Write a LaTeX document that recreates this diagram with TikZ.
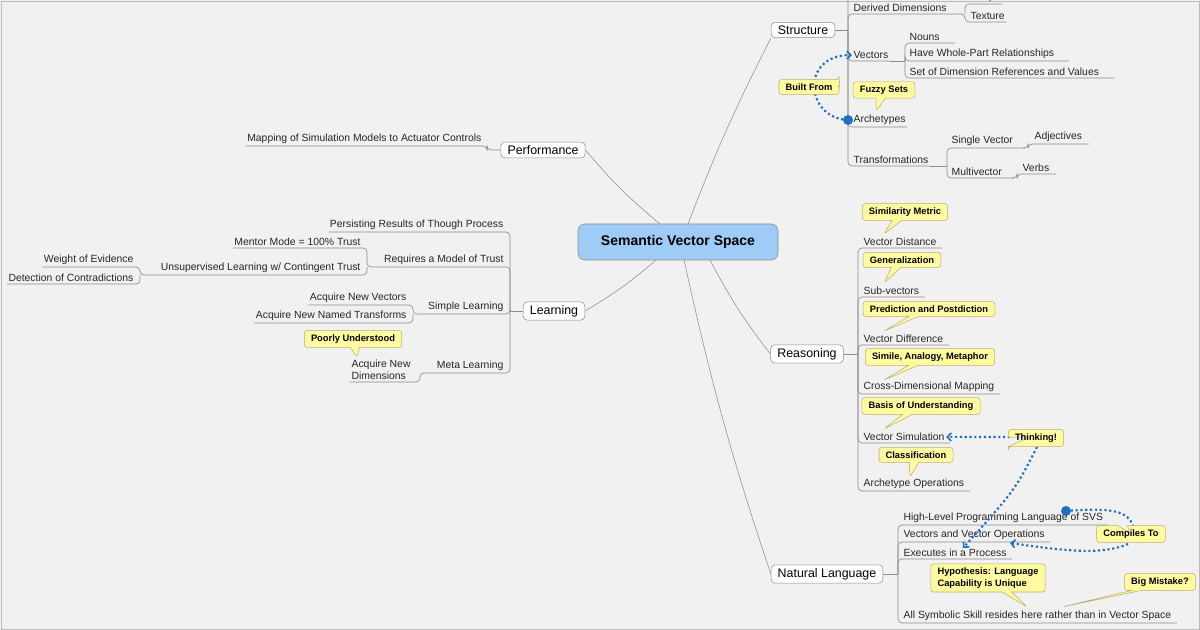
\documentclass[tikz,border=0pt]{standalone}
\usepackage{fontspec}
\setmainfont{Liberation Sans}
\usetikzlibrary{shapes.callouts,arrows.meta}
\definecolor{bg}{HTML}{F1F1F1}
\definecolor{ln}{HTML}{8C8C8C}
\definecolor{cy}{HTML}{FFFAA0}
\definecolor{cyb}{HTML}{B8B070}
\definecolor{lb}{HTML}{9FCBF7}
\definecolor{dl}{HTML}{1F6FC0}
\tikzset{
 item/.style={inner xsep=1pt,inner ysep=1.5pt,font=\fontsize{7.8}{9}\selectfont,text=black!85},
 topic/.style={draw=ln,fill=white,rounded corners=3pt,inner xsep=5pt,inner ysep=2.5pt,font=\fontsize{9.3}{11}\selectfont},
 br/.style={draw=ln,line width=0.5pt,rounded corners=3pt},
 callbox/.style={rectangle callout,draw=cyb,fill=cy,rounded corners=2pt,font=\fontsize{7}{8.5}\selectfont\bfseries,inner xsep=5pt,inner ysep=3pt,align=left},
 dots/.style={draw=dl,dotted,line width=1.6pt},
 dotarrow/.style={dots,-{Straight Barb[length=3pt,width=6pt,line width=1.2pt]}},
}
\begin{document}
\begin{tikzpicture}[x=0.75pt,y=-0.75pt]
\fill[bg] (0,0) rectangle (1200,630);
\draw[ln!60] (1,1) rectangle (1199,629);
\useasboundingbox (0,0) rectangle (1200,630);
% central
\node[draw=ln,fill=lb,rounded corners=5pt,minimum width=150pt,minimum height=27pt,font=\fontsize{10.5}{12}\selectfont\bfseries] (c) at (678,242) {Semantic Vector Space};
\node[topic] (st) at (803,30) {Structure};
\node[topic] (pf) at (543,150) {Performance};
\node[topic] (le) at (554,311) {Learning};
\node[topic] (re) at (807,354) {Reasoning};
\node[topic] (nl) at (827,574) {Natural Language};
\draw[ln] (688,224) to[bend left=3] (st.south west);
\draw[ln] (660,224) to[bend left=5] (pf.east);
\draw[ln] (656,260) to[bend left=5] (le.east);
\draw[ln] (710,260) to[bend right=5] (re.west);
\draw[ln] (684,260) to[bend right=3] (nl.west);
% Structure
\coordinate (sb) at (848,30);
\draw[br] (st.east) -- (sb);
\node[item,anchor=south west] (dd) at (852,14) {Derived Dimensions};
\node[item,anchor=south west] (ve) at (852,61) {Vectors};
\node[item,anchor=south west] (ar) at (852,127) {Archetypes};
\node[item,anchor=south west] (tr) at (852,166) {Transformations};
\foreach \n in {ar,tr}{\draw[br] (sb) |- (\n.south east);}
\draw[br] (848,0) -- (sb) |- (ve.south east);
\draw[br] (sb) |- (dd.south east);
% derived dims
\node[item,anchor=south west] (sh) at (969,4) {Shape};
\node[item,anchor=south west] (tx) at (969,22) {Texture};
\draw[br] (dd.south east) -- (965,14) |- (tx.south east);
\draw[br] (965,14) |- (sh.south east);
% vectors
\node[item,anchor=south west] (no) at (908,43) {Nouns};
\node[item,anchor=south west] (wp) at (908,61) {Have Whole-Part Relationships};
\node[item,anchor=south west] (sd) at (908,78) {Set of Dimension References and Values};
\draw[ln] (ve.south east) -- (905,61);
\foreach \n in {no,wp,sd}{\draw[br] (905,61) |- ([xshift=10]\n.south east);}
% transformations
\node[item,anchor=south west] (sv) at (950,148) {Single Vector};
\node[item,anchor=south west] (mv) at (950,178) {Multivector};
\draw[br] (tr.south east) -- (947,166);
\draw[br] (947,166) |- ([xshift=8]sv.south east);
\draw[br] (947,166) |- ([xshift=8]mv.south east);
\node[item,anchor=south west] (adj) at (1033,144) {Adjectives};
\node[item,anchor=south west] (vb) at (1021,174) {Verbs};
\draw[br] ([xshift=8]sv.south east) -- ++(3,0) |- ([xshift=4]adj.south east);
\draw[br] ([xshift=8]mv.south east) -- ++(3,0) |- ([xshift=4]vb.south east);
% built from
\draw[dotarrow] (848,120) .. controls (805,118) and (800,55) .. (ve.west);
\fill[dl] (848,120) circle (5);
\node[callbox,callout absolute pointer={(840,88)}] (bf) at (809,87) {Built From};
\node[callbox,callout absolute pointer={(876,111)}] (fz) at (884,90) {Fuzzy Sets};
% Performance
\node[item,anchor=south east] (ms) at (483,146) {Mapping of Simulation Models to Actuator Controls};
\draw[br] (pf.west) -- (487,150) |- (ms.south west);
% Learning
\coordinate (lb) at (510,311);
\draw[br] (le.west) -- (lb);
\node[item,anchor=south east] (pr) at (505,232) {Persisting Results of Though Process};
\node[item,anchor=south east] (rm) at (505,267) {Requires a Model of Trust};
\node[item,anchor=south east] (sl) at (505,314) {Simple Learning};
\node[item,anchor=south east] (ml) at (505,373) {Meta Learning};
\foreach \n in {pr,rm,sl,ml}{\draw[br] (lb) |- (\n.south west);}
\node[item,anchor=south east] (mm) at (362,248) {Mentor Mode = 100\% Trust};
\node[item,anchor=south east] (ul) at (362,275) {Unsupervised Learning w/ Contingent Trust};
\draw[br] (rm.south west) -- (367,267) |- (mm.south west);
\draw[br] (367,267) |- (ul.south west);
\node[item,anchor=south east] (we) at (135,267) {Weight of Evidence};
\node[item,anchor=south east] (dc) at (135,284) {Detection of Contradictions};
\draw[br] (ul.south west) -- (140,275) |- (we.south west);
\draw[br] (140,275) |- (dc.south west);
\node[item,anchor=south east] (av) at (408,305) {Acquire New Vectors};
\node[item,anchor=south east] (at) at (408,323) {Acquire New Named Transforms};
\draw[br] (sl.south west) -- (413,314) |- (av.south west);
\draw[br] (413,314) |- (at.south west);
\node[item,anchor=south west,align=left] (an) at (350,382) {Acquire New\\Dimensions};
\draw[br] (ml.south west) -- (420,373) |- (an.south west);
\node[callbox,callout absolute pointer={(357,357)}] (pu) at (353,339) {Poorly Understood};
% Reasoning
\coordinate (rb) at (858,354);
\draw[br] (re.east) -- (rb);
\node[item,anchor=south west] (r1) at (862,248) {Vector Distance};
\node[item,anchor=south west] (r2) at (862,297) {Sub-vectors};
\node[item,anchor=south west] (r3) at (862,345) {Vector Difference};
\node[item,anchor=south west] (r4) at (862,394) {Cross-Dimensional Mapping};
\node[item,anchor=south west] (r5) at (862,443) {Vector Simulation};
\node[item,anchor=south west] (r6) at (862,491) {Archetype Operations};
\foreach \n in {r1,r2,r3,r4,r5,r6}{\draw[br] (rb) |- ([xshift=3]\n.south east);}
\node[callbox,callout absolute pointer={(884,234)}] at (905,212) {Similarity Metric};
\node[callbox,callout absolute pointer={(884,283)}] at (902,260) {Generalization};
\node[callbox,callout absolute pointer={(884,331)}] at (929,309) {Prediction and Postdiction};
\node[callbox,callout absolute pointer={(884,380)}] at (930,357) {Simile, Analogy, Metaphor};
\node[callbox,callout absolute pointer={(884,429)}] at (921,406) {Basis of Understanding};
\node[callbox,callout absolute pointer={(910,477)}] at (916,455) {Classification};
% Natural language
\coordinate (nb) at (898,574);
\draw[br] (nl.east) -- (nb);
\node[item,anchor=south west] (n1) at (902,525) {High-Level Programming Language of SVS};
\node[item,anchor=south west] (n2) at (902,542) {Vectors and Vector Operations};
\node[item,anchor=south west] (n3) at (902,559) {Executes in a Process};
\node[item,anchor=south west] (n4) at (902,623) {All Symbolic Skill resides here rather than in Vector Space};
\foreach \n in {n1,n2,n3,n4}{\draw[br] (nb) |- ([xshift=3]\n.south east);}
% dotted links
\draw[dotarrow] (1010,437) -- (r5.east);
\draw[dotarrow] (1037,447) .. controls (1015,490) .. (963,548);
\node[callbox,callout absolute pointer={(1030,437)}] (th) at (1036,438) {Thinking!};
\draw[dots] (1066,511) .. controls (1115,507) and (1128,512) .. (1133,526);
\draw[dotarrow] (1128,544) .. controls (1100,556) and (1060,550) .. (1010,543);
\fill[dl] (1066,511) circle (5);
\node[callbox,callout absolute pointer={(1130,533)}] (ct) at (1131,534) {Compiles To};
\node[callbox,callout absolute pointer={(1027,607)}] at (988,578) {Hypothesis: Language\\Capability is Unique};
\node[callbox,callout absolute pointer={(1062,607)}] at (1160,582) {Big Mistake?};
\end{tikzpicture}
\end{document}
